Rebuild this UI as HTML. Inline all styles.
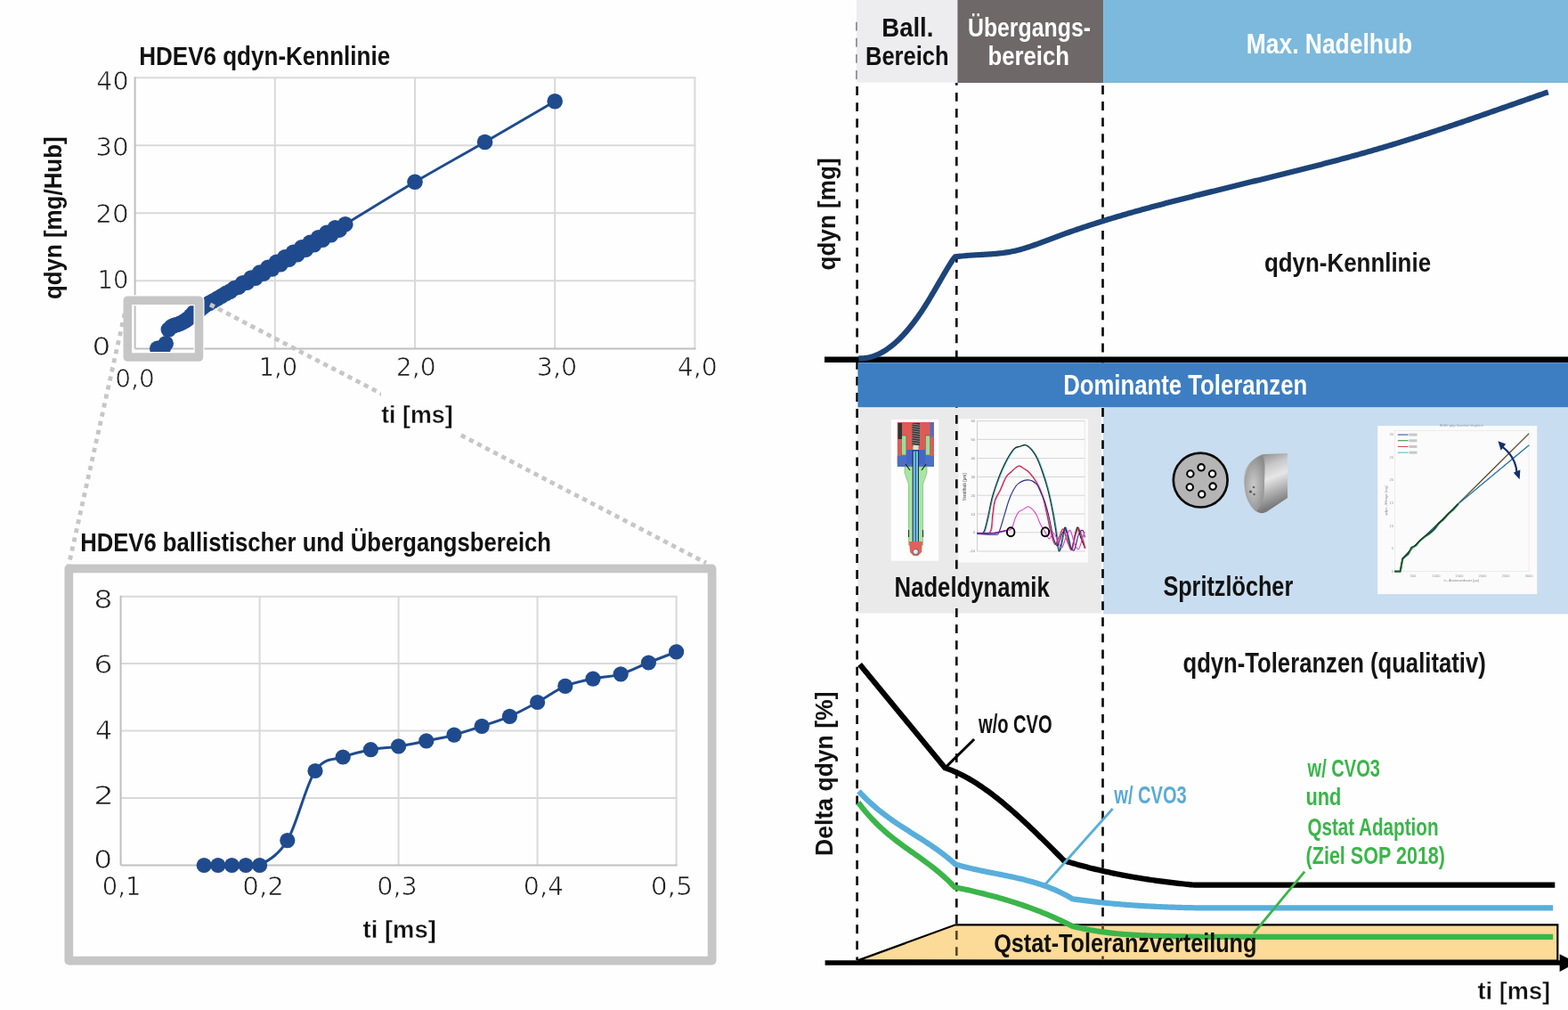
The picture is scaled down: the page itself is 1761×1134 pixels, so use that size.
<!DOCTYPE html><html><head><meta charset="utf-8"><title>HDEV6 qdyn</title>
<style>html,body{margin:0;padding:0;background:#fff;}svg{display:block;}</style></head><body>
<svg width="1761" height="1134" viewBox="0 0 1761 1134">
<rect x="0" y="0" width="1761" height="1134" fill="#fefefe"/>
<g id="chart1">
<line x1="308.80" y1="87.20" x2="308.80" y2="391.40" stroke="#d9d9d9" stroke-width="2"/>
<line x1="466.00" y1="87.20" x2="466.00" y2="391.40" stroke="#d9d9d9" stroke-width="2"/>
<line x1="623.20" y1="87.20" x2="623.20" y2="391.40" stroke="#d9d9d9" stroke-width="2"/>
<line x1="780.40" y1="87.20" x2="780.40" y2="391.40" stroke="#d9d9d9" stroke-width="2"/>
<line x1="151.60" y1="315.35" x2="781.40" y2="315.35" stroke="#d9d9d9" stroke-width="2"/>
<line x1="151.60" y1="239.30" x2="781.40" y2="239.30" stroke="#d9d9d9" stroke-width="2"/>
<line x1="151.60" y1="163.25" x2="781.40" y2="163.25" stroke="#d9d9d9" stroke-width="2"/>
<line x1="151.60" y1="87.20" x2="781.40" y2="87.20" stroke="#d9d9d9" stroke-width="2"/>
<line x1="151.60" y1="86.20" x2="151.60" y2="391.40" stroke="#bfbfbf" stroke-width="2"/>
<line x1="151.60" y1="391.40" x2="781.40" y2="391.40" stroke="#bfbfbf" stroke-width="2"/>
<path d="M176.75,391.40 C177.01,391.40 177.80,391.40 178.32,391.40 C178.85,391.40 179.37,391.40 179.90,391.40 C180.42,391.40 180.94,391.40 181.47,391.40 C181.99,391.40 182.25,392.34 183.04,391.40 C183.83,390.46 185.14,389.33 186.18,385.77 C187.23,382.21 188.28,373.17 189.33,370.03 C190.38,366.89 191.42,367.71 192.47,366.91 C193.52,366.11 194.57,365.64 195.62,365.24 C196.66,364.83 197.71,364.81 198.76,364.48 C199.81,364.15 200.86,363.69 201.90,363.26 C202.95,362.83 204.00,362.45 205.05,361.89 C206.10,361.33 207.14,360.61 208.19,359.92 C209.24,359.22 210.29,358.61 211.34,357.71 C212.38,356.81 213.43,355.66 214.48,354.52 C215.53,353.38 216.58,351.75 217.62,350.87 C218.67,349.98 219.72,349.65 220.77,349.19 C221.82,348.74 222.86,348.74 223.91,348.13 C224.96,347.52 226.01,346.38 227.06,345.54 C228.10,344.71 223.13,347.27 230.20,343.11 C237.27,338.95 256.40,328.12 269.50,320.58 C282.60,313.04 295.70,305.46 308.80,297.86 C321.90,290.25 334.93,282.64 348.10,274.95 C361.27,267.25 368.16,263.47 387.81,251.70 C407.46,239.92 439.87,219.69 466.00,204.32 C492.13,188.94 518.40,174.53 544.60,159.45 C570.80,144.36 610.10,121.42 623.20,113.82" fill="none" stroke="#1f4b8e" stroke-width="3"/>
<circle cx="176.75" cy="391.40" r="8.8" fill="#1f4b8e"/>
<circle cx="178.32" cy="391.40" r="8.8" fill="#1f4b8e"/>
<circle cx="179.90" cy="391.40" r="8.8" fill="#1f4b8e"/>
<circle cx="181.47" cy="391.40" r="8.8" fill="#1f4b8e"/>
<circle cx="183.04" cy="391.40" r="8.8" fill="#1f4b8e"/>
<circle cx="186.18" cy="385.77" r="8.8" fill="#1f4b8e"/>
<circle cx="189.33" cy="370.03" r="8.8" fill="#1f4b8e"/>
<circle cx="192.47" cy="366.91" r="8.8" fill="#1f4b8e"/>
<circle cx="195.62" cy="365.24" r="8.8" fill="#1f4b8e"/>
<circle cx="198.76" cy="364.48" r="8.8" fill="#1f4b8e"/>
<circle cx="201.90" cy="363.26" r="8.8" fill="#1f4b8e"/>
<circle cx="205.05" cy="361.89" r="8.8" fill="#1f4b8e"/>
<circle cx="208.19" cy="359.92" r="8.8" fill="#1f4b8e"/>
<circle cx="211.34" cy="357.71" r="8.8" fill="#1f4b8e"/>
<circle cx="214.48" cy="354.52" r="8.8" fill="#1f4b8e"/>
<circle cx="217.62" cy="350.87" r="8.8" fill="#1f4b8e"/>
<circle cx="220.77" cy="349.19" r="8.8" fill="#1f4b8e"/>
<circle cx="223.91" cy="348.13" r="8.8" fill="#1f4b8e"/>
<circle cx="227.06" cy="345.54" r="8.8" fill="#1f4b8e"/>
<circle cx="230.20" cy="343.11" r="8.8" fill="#1f4b8e"/>
<circle cx="234.92" cy="340.41" r="8.8" fill="#1f4b8e"/>
<circle cx="239.63" cy="337.72" r="8.8" fill="#1f4b8e"/>
<circle cx="244.35" cy="335.02" r="8.8" fill="#1f4b8e"/>
<circle cx="249.06" cy="332.32" r="8.8" fill="#1f4b8e"/>
<circle cx="253.78" cy="329.42" r="8.8" fill="#1f4b8e"/>
<circle cx="258.50" cy="327.29" r="8.8" fill="#1f4b8e"/>
<circle cx="263.21" cy="323.61" r="8.8" fill="#1f4b8e"/>
<circle cx="267.93" cy="322.26" r="8.8" fill="#1f4b8e"/>
<circle cx="272.64" cy="317.80" r="8.8" fill="#1f4b8e"/>
<circle cx="277.36" cy="317.21" r="8.8" fill="#1f4b8e"/>
<circle cx="282.08" cy="311.97" r="8.8" fill="#1f4b8e"/>
<circle cx="286.79" cy="312.16" r="8.8" fill="#1f4b8e"/>
<circle cx="291.51" cy="306.13" r="8.8" fill="#1f4b8e"/>
<circle cx="296.22" cy="307.09" r="8.8" fill="#1f4b8e"/>
<circle cx="300.94" cy="300.28" r="8.8" fill="#1f4b8e"/>
<circle cx="305.66" cy="302.01" r="8.8" fill="#1f4b8e"/>
<circle cx="310.37" cy="294.42" r="8.8" fill="#1f4b8e"/>
<circle cx="315.09" cy="296.79" r="8.8" fill="#1f4b8e"/>
<circle cx="319.80" cy="288.88" r="8.8" fill="#1f4b8e"/>
<circle cx="324.52" cy="291.30" r="8.8" fill="#1f4b8e"/>
<circle cx="329.24" cy="283.38" r="8.8" fill="#1f4b8e"/>
<circle cx="333.95" cy="285.80" r="8.8" fill="#1f4b8e"/>
<circle cx="338.67" cy="277.88" r="8.8" fill="#1f4b8e"/>
<circle cx="343.38" cy="280.29" r="8.8" fill="#1f4b8e"/>
<circle cx="348.10" cy="272.36" r="8.8" fill="#1f4b8e"/>
<circle cx="352.82" cy="274.77" r="8.8" fill="#1f4b8e"/>
<circle cx="357.53" cy="266.84" r="8.8" fill="#1f4b8e"/>
<circle cx="362.25" cy="269.24" r="8.8" fill="#1f4b8e"/>
<circle cx="366.96" cy="261.30" r="8.8" fill="#1f4b8e"/>
<circle cx="371.68" cy="263.70" r="8.8" fill="#1f4b8e"/>
<circle cx="376.40" cy="255.75" r="8.8" fill="#1f4b8e"/>
<circle cx="381.11" cy="258.14" r="8.8" fill="#1f4b8e"/>
<circle cx="387.81" cy="251.70" r="8.8" fill="#1f4b8e"/>
<circle cx="466.00" cy="204.32" r="8.8" fill="#1f4b8e"/>
<circle cx="544.60" cy="159.45" r="8.8" fill="#1f4b8e"/>
<circle cx="623.20" cy="113.82" r="8.8" fill="#1f4b8e"/>
</g>
<rect x="143.3" y="337.2" width="80.2" height="63.8" fill="none" stroke="#fff" stroke-width="12" stroke-linejoin="round"/>
<rect x="143.3" y="337.2" width="80.2" height="63.8" fill="none" stroke="#c6c6c6" stroke-width="9.6" stroke-linejoin="round"/>
<line x1="142.3" y1="342" x2="77.3" y2="634" stroke="#c6c6c6" stroke-width="4.8" stroke-dasharray="5.1 5.2"/>
<line x1="236" y1="342" x2="793" y2="632" stroke="#c6c6c6" stroke-width="4.8" stroke-dasharray="5.4 4.85"/>
<text id="c1y40" x="108.36" y="100.90" font-family="'DejaVu Sans', 'Liberation Sans', sans-serif" font-weight="normal" font-size="27.50" fill="#1e1e1e" textLength="36.36" lengthAdjust="spacingAndGlyphs" stroke="#fefefe" stroke-width="0.7">40</text>
<text id="c1y30" x="107.19" y="175.40" font-family="'DejaVu Sans', 'Liberation Sans', sans-serif" font-weight="normal" font-size="27.50" fill="#1e1e1e" textLength="37.58" lengthAdjust="spacingAndGlyphs" stroke="#fefefe" stroke-width="0.7">30</text>
<text id="c1y20" x="107.19" y="250.00" font-family="'DejaVu Sans', 'Liberation Sans', sans-serif" font-weight="normal" font-size="27.50" fill="#1e1e1e" textLength="37.58" lengthAdjust="spacingAndGlyphs" stroke="#fefefe" stroke-width="0.7">20</text>
<text id="c1y10" x="109.52" y="324.40" font-family="'DejaVu Sans', 'Liberation Sans', sans-serif" font-weight="normal" font-size="27.50" fill="#1e1e1e" textLength="34.86" lengthAdjust="spacingAndGlyphs" stroke="#fefefe" stroke-width="0.7">10</text>
<text id="c1y0" x="103.51" y="398.50" font-family="'DejaVu Sans', 'Liberation Sans', sans-serif" font-weight="normal" font-size="27.50" fill="#1e1e1e" textLength="20.79" lengthAdjust="spacingAndGlyphs" stroke="#fefefe" stroke-width="0.7">0</text>
<text id="c1x0,0" x="129.36" y="435.20" font-family="'DejaVu Sans', 'Liberation Sans', sans-serif" font-weight="normal" font-size="27.50" fill="#1e1e1e" textLength="44.34" lengthAdjust="spacingAndGlyphs" stroke="#fefefe" stroke-width="0.7">0,0</text>
<text id="c1x1,0" x="290.64" y="422.20" font-family="'DejaVu Sans', 'Liberation Sans', sans-serif" font-weight="normal" font-size="27.50" fill="#1e1e1e" textLength="43.62" lengthAdjust="spacingAndGlyphs" stroke="#fefefe" stroke-width="0.7">1,0</text>
<text id="c1x2,0" x="444.77" y="422.20" font-family="'DejaVu Sans', 'Liberation Sans', sans-serif" font-weight="normal" font-size="27.50" fill="#1e1e1e" textLength="44.94" lengthAdjust="spacingAndGlyphs" stroke="#fefefe" stroke-width="0.7">2,0</text>
<text id="c1x3,0" x="602.77" y="422.00" font-family="'DejaVu Sans', 'Liberation Sans', sans-serif" font-weight="normal" font-size="27.50" fill="#1e1e1e" textLength="45.45" lengthAdjust="spacingAndGlyphs" stroke="#fefefe" stroke-width="0.7">3,0</text>
<text id="c1x4,0" x="760.82" y="422.00" font-family="'DejaVu Sans', 'Liberation Sans', sans-serif" font-weight="normal" font-size="27.50" fill="#1e1e1e" textLength="44.95" lengthAdjust="spacingAndGlyphs" stroke="#fefefe" stroke-width="0.7">4,0</text>
<rect x="428" y="438" width="89" height="52" fill="#fefefe"/>
<text id="c1xl" x="428.16" y="475.00" font-family="'Liberation Sans', Arial, sans-serif" font-weight="bold" font-size="28.00" fill="#111" textLength="80.50" lengthAdjust="spacingAndGlyphs" stroke="#fefefe" stroke-width="0.4">ti [ms]</text>
<text id="c1t" x="156.19" y="72.70" font-family="'Liberation Sans', Arial, sans-serif" font-weight="bold" font-size="29.50" fill="#111" textLength="282.01" lengthAdjust="spacingAndGlyphs" >HDEV6 qdyn-Kennlinie</text>
<text id="c1yl" transform="rotate(-90)" x="-336.11" y="69.20" font-family="'Liberation Sans', Arial, sans-serif" font-weight="bold" font-size="28.00" fill="#111" textLength="182.72" lengthAdjust="spacingAndGlyphs" >qdyn [mg/Hub]</text>
<g id="chart2">
<rect x="77.3" y="638.4" width="722.3" height="440.2" fill="#fefefe" stroke="#c6c6c6" stroke-width="9.7" stroke-linejoin="round"/>
<line x1="291.60" y1="669.66" x2="291.60" y2="971.50" stroke="#d9d9d9" stroke-width="2"/>
<line x1="447.60" y1="669.66" x2="447.60" y2="971.50" stroke="#d9d9d9" stroke-width="2"/>
<line x1="603.60" y1="669.66" x2="603.60" y2="971.50" stroke="#d9d9d9" stroke-width="2"/>
<line x1="759.60" y1="669.66" x2="759.60" y2="971.50" stroke="#d9d9d9" stroke-width="2"/>
<line x1="135.60" y1="896.04" x2="760.60" y2="896.04" stroke="#d9d9d9" stroke-width="2"/>
<line x1="135.60" y1="820.58" x2="760.60" y2="820.58" stroke="#d9d9d9" stroke-width="2"/>
<line x1="135.60" y1="745.12" x2="760.60" y2="745.12" stroke="#d9d9d9" stroke-width="2"/>
<line x1="135.60" y1="669.66" x2="760.60" y2="669.66" stroke="#d9d9d9" stroke-width="2"/>
<line x1="135.60" y1="668.66" x2="135.60" y2="971.50" stroke="#bfbfbf" stroke-width="2"/>
<line x1="135.60" y1="971.50" x2="760.60" y2="971.50" stroke="#bfbfbf" stroke-width="2"/>
<path d="M229.20,971.50 C231.80,971.50 239.60,971.50 244.80,971.50 C250.00,971.50 255.20,971.50 260.40,971.50 C265.60,971.50 270.80,971.50 276.00,971.50 C281.20,971.50 283.80,976.15 291.60,971.50 C299.40,966.85 312.40,961.25 322.80,943.58 C333.20,925.91 343.60,881.07 354.00,865.48 C364.40,849.88 374.80,853.97 385.20,850.01 C395.60,846.05 406.00,843.72 416.40,841.71 C426.80,839.70 437.20,839.57 447.60,837.94 C458.00,836.30 468.40,834.04 478.80,831.90 C489.20,829.76 499.60,827.87 510.00,825.11 C520.40,822.34 530.80,818.76 541.20,815.30 C551.60,811.84 562.00,808.82 572.40,804.36 C582.80,799.89 593.20,794.17 603.60,788.51 C614.00,782.85 624.40,774.80 634.80,770.40 C645.20,766.00 655.60,764.36 666.00,762.10 C676.40,759.83 686.80,759.83 697.20,756.82 C707.60,753.80 718.00,748.14 728.40,743.99 C738.80,739.84 754.40,733.93 759.60,731.91" fill="none" stroke="#1f4b8e" stroke-width="3"/>
<circle cx="229.20" cy="971.50" r="8.6" fill="#1f4b8e"/>
<circle cx="244.80" cy="971.50" r="8.6" fill="#1f4b8e"/>
<circle cx="260.40" cy="971.50" r="8.6" fill="#1f4b8e"/>
<circle cx="276.00" cy="971.50" r="8.6" fill="#1f4b8e"/>
<circle cx="291.60" cy="971.50" r="8.6" fill="#1f4b8e"/>
<circle cx="322.80" cy="943.58" r="8.6" fill="#1f4b8e"/>
<circle cx="354.00" cy="865.48" r="8.6" fill="#1f4b8e"/>
<circle cx="385.20" cy="850.01" r="8.6" fill="#1f4b8e"/>
<circle cx="416.40" cy="841.71" r="8.6" fill="#1f4b8e"/>
<circle cx="447.60" cy="837.94" r="8.6" fill="#1f4b8e"/>
<circle cx="478.80" cy="831.90" r="8.6" fill="#1f4b8e"/>
<circle cx="510.00" cy="825.11" r="8.6" fill="#1f4b8e"/>
<circle cx="541.20" cy="815.30" r="8.6" fill="#1f4b8e"/>
<circle cx="572.40" cy="804.36" r="8.6" fill="#1f4b8e"/>
<circle cx="603.60" cy="788.51" r="8.6" fill="#1f4b8e"/>
<circle cx="634.80" cy="770.40" r="8.6" fill="#1f4b8e"/>
<circle cx="666.00" cy="762.10" r="8.6" fill="#1f4b8e"/>
<circle cx="697.20" cy="756.82" r="8.6" fill="#1f4b8e"/>
<circle cx="728.40" cy="743.99" r="8.6" fill="#1f4b8e"/>
<circle cx="759.60" cy="731.91" r="8.6" fill="#1f4b8e"/>
</g>
<text id="c2y8" x="105.33" y="683.40" font-family="'DejaVu Sans', 'Liberation Sans', sans-serif" font-weight="normal" font-size="27.50" fill="#1e1e1e" textLength="21.36" lengthAdjust="spacingAndGlyphs" stroke="#fefefe" stroke-width="0.7">8</text>
<text id="c2y6" x="105.33" y="756.00" font-family="'DejaVu Sans', 'Liberation Sans', sans-serif" font-weight="normal" font-size="27.50" fill="#1e1e1e" textLength="21.36" lengthAdjust="spacingAndGlyphs" stroke="#fefefe" stroke-width="0.7">6</text>
<text id="c2y4" x="106.76" y="829.50" font-family="'DejaVu Sans', 'Liberation Sans', sans-serif" font-weight="normal" font-size="27.50" fill="#1e1e1e" textLength="19.54" lengthAdjust="spacingAndGlyphs" stroke="#fefefe" stroke-width="0.7">4</text>
<text id="c2y2" x="105.11" y="903.00" font-family="'DejaVu Sans', 'Liberation Sans', sans-serif" font-weight="normal" font-size="27.50" fill="#1e1e1e" textLength="22.98" lengthAdjust="spacingAndGlyphs" stroke="#fefefe" stroke-width="0.7">2</text>
<text id="c2y0" x="105.21" y="975.00" font-family="'DejaVu Sans', 'Liberation Sans', sans-serif" font-weight="normal" font-size="27.50" fill="#1e1e1e" textLength="20.93" lengthAdjust="spacingAndGlyphs" stroke="#fefefe" stroke-width="0.7">0</text>
<text id="c2x0,1" x="114.84" y="1004.50" font-family="'DejaVu Sans', 'Liberation Sans', sans-serif" font-weight="normal" font-size="27.50" fill="#1e1e1e" textLength="43.48" lengthAdjust="spacingAndGlyphs" stroke="#fefefe" stroke-width="0.7">0,1</text>
<text id="c2x0,2" x="272.30" y="1004.50" font-family="'DejaVu Sans', 'Liberation Sans', sans-serif" font-weight="normal" font-size="27.50" fill="#1e1e1e" textLength="46.58" lengthAdjust="spacingAndGlyphs" stroke="#fefefe" stroke-width="0.7">0,2</text>
<text id="c2x0,3" x="423.30" y="1004.60" font-family="'DejaVu Sans', 'Liberation Sans', sans-serif" font-weight="normal" font-size="27.50" fill="#1e1e1e" textLength="45.46" lengthAdjust="spacingAndGlyphs" stroke="#fefefe" stroke-width="0.7">0,3</text>
<text id="c2x0,4" x="587.84" y="1004.60" font-family="'DejaVu Sans', 'Liberation Sans', sans-serif" font-weight="normal" font-size="27.50" fill="#1e1e1e" textLength="45.33" lengthAdjust="spacingAndGlyphs" stroke="#fefefe" stroke-width="0.7">0,4</text>
<text id="c2x0,5" x="730.74" y="1004.60" font-family="'DejaVu Sans', 'Liberation Sans', sans-serif" font-weight="normal" font-size="27.50" fill="#1e1e1e" textLength="47.14" lengthAdjust="spacingAndGlyphs" stroke="#fefefe" stroke-width="0.7">0,5</text>
<text id="c2xl" x="407.58" y="1053.00" font-family="'Liberation Sans', Arial, sans-serif" font-weight="bold" font-size="28.00" fill="#111" textLength="82.30" lengthAdjust="spacingAndGlyphs" stroke="#fefefe" stroke-width="0.4">ti [ms]</text>
<text id="c2t" x="90.19" y="618.60" font-family="'Liberation Sans', Arial, sans-serif" font-weight="bold" font-size="29.00" fill="#111" textLength="528.81" lengthAdjust="spacingAndGlyphs" >HDEV6 ballistischer und Übergangsbereich</text>
<rect x="962.0" y="0" width="113.4" height="92.6" fill="#edecee"/>
<rect x="1075.4" y="0" width="163.8" height="93" fill="#6e6869"/>
<rect x="1239.2" y="0" width="521.8" height="93" fill="#7cb9dc"/>
<line x1="961.9" y1="24.7" x2="961.9" y2="92.6" stroke="#8a8a8a" stroke-width="1.7" stroke-dasharray="9.9 8.2"/>
<rect x="963.2" y="457.2" width="274.0" height="231.4" fill="#ebeaeb"/>
<rect x="1239.0" y="457.2" width="522.0" height="232.2" fill="#c8ddef"/>
<path d="M962.60,97.10V107.00M962.60,115.20V125.10M962.60,133.30V143.20M962.60,151.40V161.30M962.60,169.50V179.40M962.60,187.60V197.50M962.60,205.70V215.60M962.60,223.80V233.70M962.60,241.90V251.80M962.60,260.00V269.90M962.60,278.10V288.00M962.60,296.20V306.10M962.60,314.30V324.20M962.60,332.40V342.30M962.60,350.50V360.40M962.60,368.60V378.50M962.60,386.70V396.60M962.60,404.80V414.70M962.60,422.90V432.80M962.60,441.00V450.90M962.60,459.10V469.00M962.60,477.20V487.10M962.60,495.30V505.20M962.60,513.40V523.30M962.60,531.50V541.40M962.60,549.60V559.50M962.60,567.70V577.60M962.60,585.80V595.70M962.60,603.90V613.80M962.60,622.00V631.90M962.60,640.10V650.00M962.60,658.20V668.10M962.60,676.30V686.20M962.60,694.40V704.30M962.60,712.50V722.40M962.60,730.60V740.50M962.60,748.70V758.60M962.60,766.80V776.70M962.60,784.90V794.80M962.60,803.00V812.90M962.60,821.10V831.00M962.60,839.20V849.10M962.60,857.30V867.20M962.60,875.40V885.30M962.60,893.50V903.40M962.60,911.60V921.50M962.60,929.70V939.60M962.60,947.80V957.70M962.60,965.90V975.80M962.60,984.00V993.90M962.60,1002.10V1012.00M962.60,1020.20V1030.10M962.60,1038.30V1048.20M962.60,1056.40V1066.30M962.60,1074.50V1078.00" stroke="#000" stroke-width="2.6" fill="none"/>
<path d="M1074.30,93.00V95.70M1074.30,103.90V113.80M1074.30,122.00V131.90M1074.30,140.10V150.00M1074.30,158.20V168.10M1074.30,176.30V186.20M1074.30,194.40V204.30M1074.30,212.50V222.40M1074.30,230.60V240.50M1074.30,248.70V258.60M1074.30,266.80V276.70M1074.30,284.90V294.80M1074.30,303.00V312.90M1074.30,321.10V331.00M1074.30,339.20V349.10M1074.30,357.30V367.20M1074.30,375.40V385.30M1074.30,393.50V403.40M1074.30,411.60V421.50M1074.30,429.70V439.60M1074.30,447.80V457.70M1074.30,465.90V475.80M1074.30,484.00V493.90M1074.30,502.10V512.00M1074.30,520.20V530.10M1074.30,538.30V548.20M1074.30,556.40V566.30M1074.30,574.50V584.40M1074.30,592.60V602.50M1074.30,610.70V620.60M1074.30,628.80V638.70M1074.30,646.90V656.80M1074.30,665.00V674.90M1074.30,683.10V693.00M1074.30,701.20V711.10M1074.30,719.30V729.20M1074.30,737.40V747.30M1074.30,755.50V765.40M1074.30,773.60V783.50M1074.30,791.70V801.60M1074.30,809.80V819.70M1074.30,827.90V837.80M1074.30,846.00V855.90M1074.30,864.10V874.00M1074.30,882.20V892.10M1074.30,900.30V910.20M1074.30,918.40V928.30M1074.30,936.50V946.40M1074.30,954.60V964.50M1074.30,972.70V982.60M1074.30,990.80V1000.70M1074.30,1008.90V1018.80M1074.30,1027.00V1036.90M1074.30,1045.10V1055.00M1074.30,1063.20V1073.10" stroke="#000" stroke-width="2.6" fill="none"/>
<path d="M1238.50,96.00V105.90M1238.50,114.10V124.00M1238.50,132.20V142.10M1238.50,150.30V160.20M1238.50,168.40V178.30M1238.50,186.50V196.40M1238.50,204.60V214.50M1238.50,222.70V232.60M1238.50,240.80V250.70M1238.50,258.90V268.80M1238.50,277.00V286.90M1238.50,295.10V305.00M1238.50,313.20V323.10M1238.50,331.30V341.20M1238.50,349.40V359.30M1238.50,367.50V377.40M1238.50,385.60V395.50M1238.50,403.70V413.60M1238.50,421.80V431.70M1238.50,439.90V449.80M1238.50,458.00V467.90M1238.50,476.10V486.00M1238.50,494.20V504.10M1238.50,512.30V522.20M1238.50,530.40V540.30M1238.50,548.50V558.40M1238.50,566.60V576.50M1238.50,584.70V594.60M1238.50,602.80V612.70M1238.50,620.90V630.80M1238.50,639.00V648.90M1238.50,657.10V667.00M1238.50,675.20V685.10M1238.50,693.30V703.20M1238.50,711.40V721.30M1238.50,729.50V739.40M1238.50,747.60V757.50M1238.50,765.70V775.60M1238.50,783.80V793.70M1238.50,801.90V811.80M1238.50,820.00V829.90M1238.50,838.10V848.00M1238.50,856.20V866.10M1238.50,874.30V884.20M1238.50,892.40V902.30M1238.50,910.50V920.40M1238.50,928.60V938.50M1238.50,946.70V956.60M1238.50,964.80V974.70M1238.50,982.90V992.80M1238.50,1001.00V1010.90M1238.50,1019.10V1029.00M1238.50,1037.20V1047.10M1238.50,1055.30V1065.20M1238.50,1073.40V1078.00" stroke="#000" stroke-width="2.6" fill="none"/>
<rect x="1070" y="640" width="9" height="39" fill="#ebeaeb"/>
<rect x="963.4" y="407.2" width="797.6" height="50.0" fill="#3d7ec2"/>
<line x1="926" y1="403.8" x2="1761" y2="403.8" stroke="#000" stroke-width="6.6"/>
<path d="M964.30,402.70 L966.31,402.38 L968.31,402.33 L970.32,402.19 L972.32,401.96 L974.33,401.63 L976.33,401.21 L978.34,400.70 L980.34,400.10 L982.35,399.40 L984.36,398.62 L986.36,397.74 L988.37,396.77 L990.37,395.71 L992.38,394.56 L994.38,393.32 L996.39,391.99 L998.39,390.58 L1000.40,389.07 L1002.41,387.48 L1004.41,385.80 L1006.42,384.04 L1008.42,382.18 L1010.43,380.24 L1012.43,378.22 L1014.44,376.11 L1016.44,373.91 L1018.45,371.63 L1020.46,369.27 L1022.46,366.82 L1024.47,364.29 L1026.47,361.67 L1028.48,358.98 L1030.48,356.20 L1032.49,353.34 L1034.49,350.40 L1036.50,347.37 L1038.51,344.27 L1040.51,341.08 L1042.52,337.83 L1044.52,334.51 L1046.53,331.15 L1048.53,327.74 L1050.54,324.31 L1052.54,320.86 L1054.55,317.41 L1056.56,313.96 L1058.56,310.53 L1060.57,307.12 L1062.57,303.75 L1064.58,300.44 L1066.58,297.18 L1068.59,293.99 L1070.59,290.89 L1072.60,288.40 L1074.60,288.17 L1076.60,287.91 L1078.60,287.67 L1080.60,287.46 L1082.60,287.26 L1084.60,287.08 L1086.60,286.91 L1088.60,286.76 L1090.61,286.62 L1092.61,286.49 L1094.61,286.37 L1096.61,286.25 L1098.61,286.14 L1100.61,286.03 L1102.61,285.92 L1104.61,285.81 L1106.61,285.69 L1108.61,285.57 L1110.61,285.45 L1112.61,285.31 L1114.61,285.17 L1116.61,285.01 L1118.61,284.83 L1120.61,284.65 L1122.62,284.44 L1124.62,284.21 L1126.62,283.96 L1128.62,283.69 L1130.62,283.39 L1132.62,283.07 L1134.62,282.72 L1136.62,282.33 L1138.62,281.91 L1140.62,281.46 L1142.62,280.98 L1144.62,280.47 L1146.62,279.93 L1148.62,279.36 L1150.62,278.77 L1152.62,278.15 L1154.62,277.51 L1156.63,276.86 L1158.63,276.18 L1160.63,275.49 L1162.63,274.78 L1164.63,274.06 L1166.63,273.33 L1168.63,272.59 L1170.63,271.85 L1172.63,271.10 L1174.63,270.34 L1176.63,269.58 L1178.63,268.82 L1180.63,268.06 L1182.63,267.31 L1184.63,266.56 L1186.63,265.82 L1188.63,265.08 L1190.64,264.34 L1192.64,263.61 L1194.64,262.89 L1196.64,262.17 L1198.64,261.46 L1200.64,260.75 L1202.64,260.05 L1204.64,259.35 L1206.64,258.66 L1208.64,257.97 L1210.64,257.29 L1212.64,256.61 L1214.64,255.94 L1216.64,255.27 L1218.64,254.60 L1220.64,253.94 L1222.65,253.28 L1224.65,252.63 L1226.65,251.99 L1228.65,251.34 L1230.65,250.70 L1232.65,250.07 L1234.65,249.44 L1236.65,248.81 L1238.65,248.19 L1240.65,247.57 L1242.65,246.95 L1244.65,246.34 L1246.65,245.73 L1248.65,245.13 L1250.65,244.53 L1252.65,243.93 L1254.65,243.34 L1256.66,242.75 L1258.66,242.16 L1260.66,241.57 L1262.66,240.99 L1264.66,240.42 L1266.66,239.84 L1268.66,239.27 L1270.66,238.70 L1272.66,238.13 L1274.66,237.57 L1276.66,237.01 L1278.66,236.45 L1280.66,235.89 L1282.66,235.34 L1284.66,234.79 L1286.66,234.24 L1288.66,233.70 L1290.67,233.15 L1292.67,232.61 L1294.67,232.07 L1296.67,231.53 L1298.67,231.00 L1300.67,230.47 L1302.67,229.93 L1304.67,229.40 L1306.67,228.88 L1308.67,228.35 L1310.67,227.83 L1312.67,227.30 L1314.67,226.78 L1316.67,226.26 L1318.67,225.74 L1320.67,225.23 L1322.68,224.71 L1324.68,224.20 L1326.68,223.68 L1328.68,223.17 L1330.68,222.66 L1332.68,222.15 L1334.68,221.64 L1336.68,221.14 L1338.68,220.63 L1340.68,220.13 L1342.68,219.62 L1344.68,219.12 L1346.68,218.62 L1348.68,218.12 L1350.68,217.62 L1352.68,217.12 L1354.68,216.62 L1356.69,216.13 L1358.69,215.63 L1360.69,215.13 L1362.69,214.64 L1364.69,214.14 L1366.69,213.65 L1368.69,213.16 L1370.69,212.67 L1372.69,212.17 L1374.69,211.68 L1376.69,211.19 L1378.69,210.70 L1380.69,210.21 L1382.69,209.72 L1384.69,209.23 L1386.69,208.74 L1388.69,208.25 L1390.70,207.76 L1392.70,207.28 L1394.70,206.79 L1396.70,206.30 L1398.70,205.81 L1400.70,205.32 L1402.70,204.83 L1404.70,204.35 L1406.70,203.86 L1408.70,203.37 L1410.70,202.88 L1412.70,202.39 L1414.70,201.90 L1416.70,201.41 L1418.70,200.93 L1420.70,200.44 L1422.71,199.95 L1424.71,199.46 L1426.71,198.96 L1428.71,198.47 L1430.71,197.98 L1432.71,197.49 L1434.71,197.00 L1436.71,196.50 L1438.71,196.01 L1440.71,195.51 L1442.71,195.02 L1444.71,194.52 L1446.71,194.03 L1448.71,193.53 L1450.71,193.03 L1452.71,192.53 L1454.71,192.03 L1456.72,191.53 L1458.72,191.03 L1460.72,190.52 L1462.72,190.02 L1464.72,189.51 L1466.72,189.01 L1468.72,188.50 L1470.72,187.99 L1472.72,187.48 L1474.72,186.97 L1476.72,186.46 L1478.72,185.94 L1480.72,185.43 L1482.72,184.91 L1484.72,184.39 L1486.72,183.87 L1488.72,183.35 L1490.73,182.83 L1492.73,182.30 L1494.73,181.78 L1496.73,181.25 L1498.73,180.72 L1500.73,180.19 L1502.73,179.66 L1504.73,179.12 L1506.73,178.59 L1508.73,178.05 L1510.73,177.51 L1512.73,176.97 L1514.73,176.42 L1516.73,175.88 L1518.73,175.33 L1520.73,174.78 L1522.74,174.23 L1524.74,173.67 L1526.74,173.12 L1528.74,172.56 L1530.74,172.00 L1532.74,171.43 L1534.74,170.87 L1536.74,170.30 L1538.74,169.73 L1540.74,169.16 L1542.74,168.58 L1544.74,168.01 L1546.74,167.43 L1548.74,166.84 L1550.74,166.26 L1552.74,165.67 L1554.74,165.08 L1556.75,164.49 L1558.75,163.89 L1560.75,163.29 L1562.75,162.69 L1564.75,162.09 L1566.75,161.48 L1568.75,160.87 L1570.75,160.26 L1572.75,159.64 L1574.75,159.02 L1576.75,158.40 L1578.75,157.78 L1580.75,157.16 L1582.75,156.53 L1584.75,155.90 L1586.75,155.27 L1588.75,154.63 L1590.76,153.99 L1592.76,153.35 L1594.76,152.71 L1596.76,152.07 L1598.76,151.42 L1600.76,150.78 L1602.76,150.13 L1604.76,149.47 L1606.76,148.82 L1608.76,148.16 L1610.76,147.51 L1612.76,146.85 L1614.76,146.18 L1616.76,145.52 L1618.76,144.86 L1620.76,144.19 L1622.77,143.52 L1624.77,142.85 L1626.77,142.18 L1628.77,141.51 L1630.77,140.83 L1632.77,140.15 L1634.77,139.48 L1636.77,138.80 L1638.77,138.12 L1640.77,137.44 L1642.77,136.75 L1644.77,136.07 L1646.77,135.38 L1648.77,134.70 L1650.77,134.01 L1652.77,133.32 L1654.77,132.63 L1656.78,131.94 L1658.78,131.25 L1660.78,130.56 L1662.78,129.86 L1664.78,129.17 L1666.78,128.48 L1668.78,127.78 L1670.78,127.08 L1672.78,126.39 L1674.78,125.69 L1676.78,124.99 L1678.78,124.29 L1680.78,123.59 L1682.78,122.89 L1684.78,122.19 L1686.78,121.49 L1688.78,120.79 L1690.79,120.09 L1692.79,119.39 L1694.79,118.69 L1696.79,117.99 L1698.79,117.29 L1700.79,116.58 L1702.79,115.88 L1704.79,115.18 L1706.79,114.48 L1708.79,113.78 L1710.79,113.07 L1712.79,112.37 L1714.79,111.67 L1716.79,110.97 L1718.79,110.27 L1720.79,109.57 L1722.80,108.87 L1724.80,108.17 L1726.80,107.47 L1728.80,106.77 L1730.80,106.07 L1732.80,105.37 L1734.80,104.67 L1736.80,103.98 L1738.80,103.40" fill="none" stroke="#1d4479" stroke-width="6.2" stroke-linejoin="round"/>
<g id="injector">
<rect x="1000.7" y="471" width="53.5" height="158.7" fill="#fdfdfd"/>
<rect x="1007.8" y="474" width="41.2" height="47" fill="#e05a55"/>
<rect x="1007.8" y="512" width="41.2" height="12" fill="#4a6fc4"/>
<rect x="1012.3" y="489" width="5.6" height="22" fill="#9fdc95" stroke="#333" stroke-width="0.4"/>
<rect x="1039.2" y="489" width="5.6" height="22" fill="#9fdc95" stroke="#333" stroke-width="0.4"/>
<rect x="1044.5" y="474.5" width="4" height="16" fill="#4a6fc4"/>
<rect x="1008.5" y="475" width="4.5" height="18" fill="#333"/>
<rect x="1024.5" y="475" width="8.5" height="26" fill="#333"/>
<path d="M1024.5,476.0L1033,477.3M1024.5,478.6L1033,479.9M1024.5,481.2L1033,482.5M1024.5,483.8L1033,485.1M1024.5,486.4L1033,487.7M1024.5,489.0L1033,490.3M1024.5,491.6L1033,492.9M1024.5,494.2L1033,495.5M1024.5,496.8L1033,498.1M1024.5,499.4L1033,500.7" stroke="#9a9a9a" stroke-width="0.9"/>
<rect x="1025.5" y="500" width="6" height="5" fill="#cfe8cf"/>
<rect x="1018" y="505" width="21" height="16" fill="#4466c8"/>
<path d="M1016,524 L1041,524 L1041,531 L1036.5,544 L1036.5,612 L1020.5,612 L1020.5,544 L1016,531 Z" fill="#a8e6a2" stroke="#6fae6a" stroke-width="0.6"/>
<path d="M1017,521 L1022,528 M1040,521 L1035,528" stroke="#222" stroke-width="1.2"/>
<rect x="1025.2" y="506" width="6.2" height="114" fill="#8fd4ec" stroke="#1a2a40" stroke-width="1.1"/>
<rect x="1027.4" y="506" width="1.8" height="112" fill="#2c6fa8"/>
<path d="M1021,608 L1036,608 L1035,620 L1031,624 L1026,624 L1022,620 Z" fill="#e2605a"/>
<circle cx="1028.3" cy="619.5" r="3" fill="#d8f0f8" stroke="#333" stroke-width="0.6"/>
<path d="M1020.5,595 L1020.5,603 M1036.5,595 L1036.5,603" stroke="#333" stroke-width="1.2"/>
</g>
<g id="liftchart">
<rect x="1076.5" y="470.3" width="145.5" height="161.2" fill="#fbfbfb"/>
<line x1="1097.47" y1="472.68" x2="1218.35" y2="472.68" stroke="#d0d0d0" stroke-width="0.9"/>
<text x="1095.12" y="474.18" font-family="'Liberation Sans', Arial, sans-serif" font-size="4.2" fill="#888" text-anchor="end">60</text>
<line x1="1097.47" y1="493.40" x2="1218.35" y2="493.40" stroke="#d0d0d0" stroke-width="0.9"/>
<text x="1095.12" y="494.90" font-family="'Liberation Sans', Arial, sans-serif" font-size="4.2" fill="#888" text-anchor="end">50</text>
<line x1="1097.47" y1="514.59" x2="1218.35" y2="514.59" stroke="#d0d0d0" stroke-width="0.9"/>
<text x="1095.12" y="516.09" font-family="'Liberation Sans', Arial, sans-serif" font-size="4.2" fill="#888" text-anchor="end">40</text>
<line x1="1097.47" y1="535.47" x2="1218.35" y2="535.47" stroke="#d0d0d0" stroke-width="0.9"/>
<text x="1095.12" y="536.97" font-family="'Liberation Sans', Arial, sans-serif" font-size="4.2" fill="#888" text-anchor="end">30</text>
<line x1="1097.47" y1="556.19" x2="1218.35" y2="556.19" stroke="#d0d0d0" stroke-width="0.9"/>
<text x="1095.12" y="557.69" font-family="'Liberation Sans', Arial, sans-serif" font-size="4.2" fill="#888" text-anchor="end">20</text>
<line x1="1097.47" y1="577.07" x2="1218.35" y2="577.07" stroke="#d0d0d0" stroke-width="0.9"/>
<text x="1095.12" y="578.57" font-family="'Liberation Sans', Arial, sans-serif" font-size="4.2" fill="#888" text-anchor="end">10</text>
<line x1="1097.47" y1="597.79" x2="1218.35" y2="597.79" stroke="#d0d0d0" stroke-width="0.9"/>
<text x="1095.12" y="599.29" font-family="'Liberation Sans', Arial, sans-serif" font-size="4.2" fill="#888" text-anchor="end">0</text>
<line x1="1097.47" y1="618.99" x2="1218.35" y2="618.99" stroke="#d0d0d0" stroke-width="0.9"/>
<text x="1095.12" y="620.49" font-family="'Liberation Sans', Arial, sans-serif" font-size="4.2" fill="#888" text-anchor="end">-10</text>
<line x1="1097.47" y1="472.68" x2="1097.47" y2="618.99" stroke="#c8c8c8" stroke-width="0.9"/>
<line x1="1218.35" y1="472.68" x2="1218.35" y2="618.99" stroke="#e2e2e2" stroke-width="0.7"/>
<text transform="translate(1084.91,546.77) rotate(-90)" font-family="'Liberation Sans', Arial, sans-serif" font-size="4.5" font-weight="bold" fill="#777" text-anchor="middle">Ventilhub [µm]</text>
<path d="M1098.41,598.26 C1099.59,598.19 1103.52,600.62 1105.48,597.79 C1107.44,594.97 1108.62,587.72 1110.19,581.31 C1111.76,574.90 1113.20,565.87 1114.90,559.33 C1116.60,552.79 1118.56,547.30 1120.39,542.06 C1122.22,536.83 1123.79,532.64 1125.89,527.93 C1127.98,523.22 1130.60,517.86 1132.95,513.81 C1135.31,509.75 1137.79,505.69 1140.02,503.60 C1142.24,501.51 1144.20,501.90 1146.30,501.25 C1148.39,500.59 1150.48,499.15 1152.57,499.68 C1154.67,500.20 1156.76,502.03 1158.85,504.39 C1160.95,506.74 1163.04,509.62 1165.13,513.81 C1167.23,517.99 1169.32,523.49 1171.41,529.50 C1173.51,535.52 1175.73,542.32 1177.69,549.91 C1179.65,557.50 1181.62,566.92 1183.19,575.03 C1184.76,583.14 1185.93,591.25 1187.11,598.58 C1188.29,605.90 1188.94,618.72 1190.25,618.99 C1191.56,619.25 1193.78,604.60 1194.96,600.15 C1196.14,595.70 1196.27,591.25 1197.32,592.30 C1198.36,593.34 1200.06,602.37 1201.24,606.43 C1202.42,610.48 1203.07,618.20 1204.38,616.63 C1205.69,615.06 1207.91,601.06 1209.09,597.01 C1210.27,592.95 1210.53,591.25 1211.44,592.30 C1212.36,593.34 1213.28,599.49 1214.58,603.29 C1215.89,607.08 1218.51,613.10 1219.29,615.06" fill="none" stroke="#30b8c8" stroke-width="1.1"/>
<path d="M1097.47,598.26 C1098.65,598.19 1102.57,600.62 1104.54,597.79 C1106.50,594.97 1107.68,587.72 1109.25,581.31 C1110.82,574.90 1112.26,565.87 1113.96,559.33 C1115.66,552.79 1117.62,547.30 1119.45,542.06 C1121.28,536.83 1122.85,532.64 1124.95,527.93 C1127.04,523.22 1129.65,517.86 1132.01,513.81 C1134.36,509.75 1136.85,505.69 1139.07,503.60 C1141.30,501.51 1143.26,501.90 1145.35,501.25 C1147.45,500.59 1149.54,499.15 1151.63,499.68 C1153.73,500.20 1155.82,502.03 1157.91,504.39 C1160.01,506.74 1162.10,509.62 1164.19,513.81 C1166.28,517.99 1168.38,523.49 1170.47,529.50 C1172.56,535.52 1174.79,542.32 1176.75,549.91 C1178.71,557.50 1180.68,566.92 1182.24,575.03 C1183.81,583.14 1184.99,591.25 1186.17,598.58 C1187.35,605.90 1188.00,618.72 1189.31,618.99 C1190.62,619.25 1192.84,604.60 1194.02,600.15 C1195.20,595.70 1195.33,591.25 1196.37,592.30 C1197.42,593.34 1199.12,602.37 1200.30,606.43 C1201.48,610.48 1202.13,618.20 1203.44,616.63 C1204.75,615.06 1206.97,601.06 1208.15,597.01 C1209.32,592.95 1209.59,591.25 1210.50,592.30 C1211.42,593.34 1212.33,599.49 1213.64,603.29 C1214.95,607.08 1217.57,613.10 1218.35,615.06" fill="none" stroke="#222" stroke-width="1.1"/>
<path d="M1098.26,598.58 C1100.61,598.45 1109.51,601.19 1112.39,597.79 C1115.26,594.39 1114.61,584.06 1115.53,578.17 C1116.44,572.28 1116.44,567.18 1117.88,562.47 C1119.32,557.76 1122.07,554.36 1124.16,549.91 C1126.25,545.46 1128.35,539.18 1130.44,535.78 C1132.53,532.38 1134.36,531.60 1136.72,529.50 C1139.07,527.41 1142.21,523.75 1144.57,523.22 C1146.92,522.70 1148.75,525.06 1150.85,526.36 C1152.94,527.67 1154.77,528.46 1157.13,531.07 C1159.48,533.69 1162.62,537.88 1164.98,542.06 C1167.33,546.25 1169.42,550.70 1171.26,556.19 C1173.09,561.69 1174.40,568.23 1175.97,575.03 C1177.54,581.83 1179.11,590.99 1180.68,597.01 C1182.24,603.03 1183.81,610.09 1185.38,611.14 C1186.95,612.18 1188.52,606.17 1190.09,603.29 C1191.66,600.41 1193.23,593.08 1194.80,593.87 C1196.37,594.65 1197.94,604.07 1199.51,608.00 C1201.08,611.92 1202.91,618.20 1204.22,617.42 C1205.53,616.63 1206.05,607.21 1207.36,603.29 C1208.67,599.36 1210.50,593.34 1212.07,593.87 C1213.64,594.39 1215.60,602.76 1216.78,606.43 C1217.96,610.09 1218.74,614.28 1219.14,615.85" fill="none" stroke="#f070a0" stroke-width="1.0"/>
<path d="M1097.47,598.58 C1099.83,598.45 1108.72,601.19 1111.60,597.79 C1114.48,594.39 1113.83,584.06 1114.74,578.17 C1115.66,572.28 1115.66,567.18 1117.10,562.47 C1118.53,557.76 1121.28,554.36 1123.38,549.91 C1125.47,545.46 1127.56,539.18 1129.65,535.78 C1131.75,532.38 1133.58,531.60 1135.93,529.50 C1138.29,527.41 1141.43,523.75 1143.78,523.22 C1146.14,522.70 1147.97,525.06 1150.06,526.36 C1152.16,527.67 1153.99,528.46 1156.34,531.07 C1158.70,533.69 1161.84,537.88 1164.19,542.06 C1166.55,546.25 1168.64,550.70 1170.47,556.19 C1172.30,561.69 1173.61,568.23 1175.18,575.03 C1176.75,581.83 1178.32,590.99 1179.89,597.01 C1181.46,603.03 1183.03,610.09 1184.60,611.14 C1186.17,612.18 1187.74,606.17 1189.31,603.29 C1190.88,600.41 1192.45,593.08 1194.02,593.87 C1195.59,594.65 1197.16,604.07 1198.73,608.00 C1200.30,611.92 1202.13,618.20 1203.44,617.42 C1204.75,616.63 1205.27,607.21 1206.58,603.29 C1207.89,599.36 1209.72,593.34 1211.29,593.87 C1212.86,594.39 1214.82,602.76 1216.00,606.43 C1217.17,610.09 1217.96,614.28 1218.35,615.85" fill="none" stroke="#c8204a" stroke-width="1.1"/>
<path d="M1097.47,599.36 C1100.74,599.49 1113.04,600.41 1117.10,600.15 C1121.15,599.89 1119.97,601.46 1121.81,597.79 C1123.64,594.13 1126.25,584.06 1128.08,578.17 C1129.92,572.28 1131.22,566.92 1132.79,562.47 C1134.36,558.02 1135.67,554.75 1137.50,551.48 C1139.34,548.21 1140.91,544.94 1143.78,542.85 C1146.66,540.75 1151.37,538.79 1154.77,538.92 C1158.17,539.05 1161.84,541.28 1164.19,543.63 C1166.55,545.99 1167.33,549.65 1168.90,553.05 C1170.47,556.45 1172.04,559.33 1173.61,564.04 C1175.18,568.75 1176.75,574.77 1178.32,581.31 C1179.89,587.85 1181.46,598.05 1183.03,603.29 C1184.60,608.52 1186.17,613.23 1187.74,612.71 C1189.31,612.18 1190.88,603.03 1192.45,600.15 C1194.02,597.27 1195.59,593.34 1197.16,595.44 C1198.73,597.53 1200.30,609.04 1201.87,612.71 C1203.44,616.37 1205.01,619.51 1206.58,617.42 C1208.15,615.32 1209.72,603.81 1211.29,600.15 C1212.86,596.48 1214.82,594.91 1216.00,595.44 C1217.17,595.96 1217.96,601.98 1218.35,603.29" fill="none" stroke="#2a2a8a" stroke-width="1.1"/>
<path d="M1097.47,598.89 C1100.74,598.79 1111.73,598.84 1117.10,598.26 C1122.46,597.69 1126.51,596.17 1129.65,595.44 C1132.79,594.71 1134.23,595.96 1135.93,593.87 C1137.63,591.77 1138.55,586.02 1139.86,582.88 C1141.17,579.74 1142.21,576.86 1143.78,575.03 C1145.35,573.20 1147.45,572.94 1149.28,571.89 C1151.11,570.84 1153.07,568.75 1154.77,568.75 C1156.47,568.75 1157.91,570.32 1159.48,571.89 C1161.05,573.46 1162.88,575.81 1164.19,578.17 C1165.50,580.52 1166.28,583.66 1167.33,586.02 C1168.38,588.37 1169.42,590.47 1170.47,592.30 C1171.52,594.13 1172.30,594.91 1173.61,597.01 C1174.92,599.10 1176.75,604.60 1178.32,604.86 C1179.89,605.12 1181.46,598.32 1183.03,598.58 C1184.60,598.84 1186.17,603.68 1187.74,606.43 C1189.31,609.17 1190.88,615.58 1192.45,615.06 C1194.02,614.54 1195.59,606.56 1197.16,603.29 C1198.73,600.02 1200.30,594.39 1201.87,595.44 C1203.44,596.48 1205.01,606.03 1206.58,609.57 C1208.15,613.10 1209.72,617.68 1211.29,616.63 C1212.86,615.58 1214.82,606.56 1216.00,603.29 C1217.17,600.02 1217.96,598.05 1218.35,597.01" fill="none" stroke="#e040d0" stroke-width="1.1"/>
<path d="M1097.47,598.89 L1117.10,598.58 L1129.65,595.75" stroke="#7020a0" stroke-width="1.6" fill="none"/>
<ellipse cx="1135.15" cy="597.32" rx="4.3" ry="5" fill="none" stroke="#000" stroke-width="1.9"/>
<ellipse cx="1173.92" cy="597.32" rx="4.3" ry="5" fill="none" stroke="#000" stroke-width="1.9"/>
</g>
<g id="disc">
<circle cx="1348.2" cy="539.1" r="30.4" fill="#b5b5b6" stroke="#0a0a0a" stroke-width="2.7"/>
<circle cx="1349.10" cy="524.80" r="3.7" fill="#fff" stroke="#000" stroke-width="2.1"/>
<circle cx="1361.60" cy="532.00" r="3.7" fill="#fff" stroke="#000" stroke-width="2.1"/>
<circle cx="1362.10" cy="546.10" r="3.7" fill="#fff" stroke="#000" stroke-width="2.1"/>
<circle cx="1349.70" cy="555.00" r="3.7" fill="#fff" stroke="#000" stroke-width="2.1"/>
<circle cx="1336.30" cy="547.00" r="3.7" fill="#fff" stroke="#000" stroke-width="2.1"/>
<circle cx="1336.90" cy="532.00" r="3.7" fill="#fff" stroke="#000" stroke-width="2.1"/>
</g>
<defs><linearGradient id="cyl" x1="0" y1="0" x2="0.3" y2="1"><stop offset="0" stop-color="#6e6e6e"/><stop offset="0.35" stop-color="#c9c9c9"/><stop offset="0.55" stop-color="#e6e6e6"/><stop offset="1" stop-color="#7a7a7a"/></linearGradient><radialGradient id="face" cx="0.45" cy="0.55" r="0.6"><stop offset="0" stop-color="#c8c8c8"/><stop offset="1" stop-color="#8a8a8a"/></radialGradient></defs>
<path d="M1446,509 L1418,510 C1408,514 1399,522 1397,534 C1395,548 1400,565 1411,574 C1415,577 1420,577 1425,573 L1446,559 Z" fill="url(#cyl)"/>
<path d="M1418,511 C1407,516 1399,526 1397.5,538 C1396.5,552 1401,566 1410,574 C1416,571 1420,562 1420,546 C1420,530 1422,518 1418,511 Z" fill="url(#face)" opacity="0.9"/>
<circle cx="1404.5" cy="552" r="1.6" fill="#555"/><circle cx="1408" cy="547" r="1.3" fill="#666"/><circle cx="1408.5" cy="555" r="1.3" fill="#666"/>
<g id="qchart">
<rect x="1547.2" y="478.1" width="179" height="188.9" fill="#fbfbfb"/>
<rect x="1566.21" y="483.56" width="150.91" height="158.14" fill="none" stroke="#d8d8d8" stroke-width="0.4"/>
<text x="1586.99" y="648.02" font-family="'Liberation Sans', Arial, sans-serif" font-size="4" fill="#999" text-anchor="middle">500</text>
<text x="1613.02" y="648.02" font-family="'Liberation Sans', Arial, sans-serif" font-size="4" fill="#999" text-anchor="middle">1000</text>
<text x="1639.04" y="648.02" font-family="'Liberation Sans', Arial, sans-serif" font-size="4" fill="#999" text-anchor="middle">1500</text>
<text x="1665.07" y="648.02" font-family="'Liberation Sans', Arial, sans-serif" font-size="4" fill="#999" text-anchor="middle">2000</text>
<text x="1691.09" y="648.02" font-family="'Liberation Sans', Arial, sans-serif" font-size="4" fill="#999" text-anchor="middle">2500</text>
<text x="1717.12" y="648.02" font-family="'Liberation Sans', Arial, sans-serif" font-size="4" fill="#999" text-anchor="middle">3000</text>
<text x="1564.94" y="643.00" font-family="'Liberation Sans', Arial, sans-serif" font-size="4" fill="#999" text-anchor="end">0</text>
<text x="1564.94" y="617.33" font-family="'Liberation Sans', Arial, sans-serif" font-size="4" fill="#999" text-anchor="end">5</text>
<text x="1564.94" y="591.67" font-family="'Liberation Sans', Arial, sans-serif" font-size="4" fill="#999" text-anchor="end">10</text>
<text x="1564.94" y="566.00" font-family="'Liberation Sans', Arial, sans-serif" font-size="4" fill="#999" text-anchor="end">15</text>
<text x="1564.94" y="540.34" font-family="'Liberation Sans', Arial, sans-serif" font-size="4" fill="#999" text-anchor="end">20</text>
<text x="1564.94" y="514.68" font-family="'Liberation Sans', Arial, sans-serif" font-size="4" fill="#999" text-anchor="end">25</text>
<text x="1564.94" y="489.01" font-family="'Liberation Sans', Arial, sans-serif" font-size="4" fill="#999" text-anchor="end">30</text>
<text x="1641.21" y="652.90" font-family="'Liberation Sans', Arial, sans-serif" font-size="4" fill="#888" text-anchor="middle">ti - Ansteuerdauer [µs]</text>
<text transform="translate(1558.07,562.17) rotate(-90)" font-family="'Liberation Sans', Arial, sans-serif" font-size="4" fill="#888" text-anchor="middle">qdyn - Menge [mg]</text>
<text x="1641.21" y="479.40" font-family="'Liberation Sans', Arial, sans-serif" font-size="3.5" fill="#999" text-anchor="middle">HDEV qdyn Kennlinie Vergleich</text>
<line x1="1569.82" y1="488.07" x2="1581.57" y2="488.07" stroke="#2a3fb0" stroke-width="1"/>
<rect x="1582.47" y="486.57" width="9" height="3" fill="#c8c8c8"/>
<line x1="1569.82" y1="494.76" x2="1581.57" y2="494.76" stroke="#2a8a3a" stroke-width="1"/>
<rect x="1582.47" y="493.26" width="9" height="3" fill="#c8c8c8"/>
<line x1="1569.82" y1="501.45" x2="1581.57" y2="501.45" stroke="#d04040" stroke-width="1"/>
<rect x="1582.47" y="499.95" width="9" height="3" fill="#c8c8c8"/>
<line x1="1569.82" y1="508.13" x2="1581.57" y2="508.13" stroke="#40c0c0" stroke-width="1"/>
<rect x="1582.47" y="506.63" width="9" height="3" fill="#c8c8c8"/>
<path d="M1566.21,641.70 L1572.53,641.70 L1575.24,627.24 L1586.99,614.59 L1599.64,602.84 L1615.91,587.48 L1637.60,565.79 L1717.12,487.17" fill="none" stroke="#b03a3a" stroke-width="1.1"/>
<path d="M1566.21,641.00 L1572.53,641.00 L1575.24,626.54 L1586.99,613.89 L1599.64,602.14 L1615.91,586.78 L1637.60,565.09 L1717.12,486.47" fill="none" stroke="#2a7a3a" stroke-width="1.0"/>
<path d="M1566.21,641.70 L1572.53,641.70 L1575.24,627.24 L1586.99,614.59 L1599.64,602.84 L1615.91,587.48 L1637.60,565.79 L1717.12,499.82" fill="none" stroke="#24409a" stroke-width="1.1"/>
<path d="M1566.81,641.70 L1573.13,641.70 L1575.84,627.24 L1587.59,614.59 L1600.24,602.84 L1616.51,587.48 L1638.20,565.79 L1717.72,499.82" fill="none" stroke="#2aa0b0" stroke-width="1.0"/>
<path d="M1566.21,641.70 L1572.53,641.70 L1573.98,633.56 L1575.24,627.24 L1581.57,621.82 L1585.18,614.59 L1589.70,612.78 L1594.22,607.36 L1599.64,602.84 L1605.06,599.22 L1610.49,594.71 L1615.91,587.48 L1621.33,582.96 L1626.75,576.63 L1632.17,572.11 L1637.60,565.79" fill="none" stroke="#1d3a2a" stroke-width="1.8"/>
<path d="M1567.01,642.20 L1573.33,642.20 L1574.78,634.06 L1576.04,627.74 L1582.37,622.32 L1585.98,615.09 L1590.50,613.28 L1595.02,607.86 L1600.44,603.34 L1605.86,599.72 L1611.29,595.21 L1616.71,587.98 L1622.13,583.46 L1627.55,577.13 L1632.97,572.61 L1638.40,566.29" fill="none" stroke="#3aa050" stroke-width="0.9"/>
<path d="M1687.30,501.63 Q1702.66,513.38 1703.56,531.45" fill="none" stroke="#12306a" stroke-width="2.2"/>
<path d="M1682.42,495.30 L1691.09,498.56 L1685.67,505.79 Z" fill="#12306a"/>
<path d="M1706.64,538.32 L1707.36,527.47 L1699.77,530.73 Z" fill="#12306a"/>
</g>
<path d="M965.60,746.00 L1061.30,862.20 L1063.32,862.89 L1065.35,863.62 L1067.37,864.38 L1069.39,865.18 L1071.41,866.02 L1073.44,866.90 L1075.46,867.82 L1077.48,868.78 L1079.50,869.77 L1081.53,870.80 L1083.55,871.86 L1085.57,872.95 L1087.60,874.08 L1089.62,875.25 L1091.64,876.45 L1093.66,877.67 L1095.69,878.93 L1097.71,880.23 L1099.73,881.55 L1101.75,882.90 L1103.78,884.28 L1105.80,885.69 L1107.82,887.12 L1109.85,888.58 L1111.87,890.07 L1113.89,891.59 L1115.91,893.13 L1117.94,894.69 L1119.96,896.28 L1121.98,897.89 L1124.00,899.52 L1126.03,901.18 L1128.05,902.86 L1130.07,904.56 L1132.10,906.27 L1134.12,908.01 L1136.14,909.77 L1138.16,911.54 L1140.19,913.34 L1142.21,915.15 L1144.23,916.97 L1146.25,918.81 L1148.28,920.67 L1150.30,922.54 L1152.32,924.42 L1154.35,926.32 L1156.37,928.23 L1158.39,930.16 L1160.41,932.09 L1162.44,934.03 L1164.46,935.99 L1166.48,937.95 L1168.50,939.92 L1170.53,941.90 L1172.55,943.89 L1174.57,945.89 L1176.60,947.89 L1178.62,949.90 L1180.64,951.91 L1182.66,953.93 L1184.69,955.95 L1186.71,957.97 L1188.73,960.00 L1190.75,962.02 L1192.78,964.05 L1194.80,966.20 L1196.81,966.82 L1198.82,967.43 L1200.83,968.03 L1202.84,968.62 L1204.85,969.21 L1206.87,969.79 L1208.88,970.36 L1210.89,970.92 L1212.90,971.47 L1214.91,972.02 L1216.92,972.56 L1218.93,973.09 L1220.94,973.61 L1222.95,974.13 L1224.96,974.64 L1226.98,975.14 L1228.99,975.63 L1231.00,976.12 L1233.01,976.60 L1235.02,977.07 L1237.03,977.54 L1239.04,978.00 L1241.05,978.45 L1243.06,978.89 L1245.07,979.33 L1247.08,979.76 L1249.10,980.19 L1251.11,980.61 L1253.12,981.02 L1255.13,981.42 L1257.14,981.82 L1259.15,982.22 L1261.16,982.60 L1263.17,982.98 L1265.18,983.36 L1267.19,983.73 L1269.21,984.09 L1271.22,984.44 L1273.23,984.80 L1275.24,985.14 L1277.25,985.48 L1279.26,985.81 L1281.27,986.14 L1283.28,986.46 L1285.29,986.78 L1287.30,987.09 L1289.32,987.40 L1291.33,987.70 L1293.34,987.99 L1295.35,988.28 L1297.36,988.57 L1299.37,988.85 L1301.38,989.13 L1303.39,989.40 L1305.40,989.66 L1307.41,989.92 L1309.42,990.18 L1311.44,990.43 L1313.45,990.68 L1315.46,990.92 L1317.47,991.16 L1319.48,991.39 L1321.49,991.62 L1323.50,991.85 L1325.51,992.07 L1327.52,992.29 L1329.53,992.50 L1331.55,992.71 L1333.56,992.92 L1335.57,993.12 L1337.58,993.32 L1339.59,993.51 L1341.60,993.70 L1746.30,993.70" fill="none" stroke="#000" stroke-width="6.2" stroke-linejoin="miter"/>
<line x1="1062.7" y1="860.9" x2="1094.1" y2="830.0" stroke="#000" stroke-width="3"/>
<path d="M964.50,888.40 L966.51,890.58 L968.52,892.68 L970.53,894.73 L972.54,896.71 L974.55,898.65 L976.56,900.54 L978.56,902.37 L980.57,904.16 L982.58,905.91 L984.59,907.61 L986.60,909.28 L988.61,910.90 L990.62,912.49 L992.63,914.04 L994.64,915.56 L996.65,917.05 L998.66,918.51 L1000.67,919.94 L1002.68,921.35 L1004.69,922.74 L1006.69,924.10 L1008.70,925.45 L1010.71,926.78 L1012.72,928.10 L1014.73,929.40 L1016.74,930.69 L1018.75,931.97 L1020.76,933.24 L1022.77,934.51 L1024.78,935.78 L1026.79,937.05 L1028.80,938.31 L1030.81,939.58 L1032.81,940.86 L1034.82,942.14 L1036.83,943.43 L1038.84,944.73 L1040.85,946.04 L1042.86,947.37 L1044.87,948.72 L1046.88,950.08 L1048.89,951.47 L1050.90,952.87 L1052.91,954.31 L1054.92,955.77 L1056.93,957.25 L1058.94,958.77 L1060.94,960.32 L1062.95,961.91 L1064.96,963.53 L1066.97,965.19 L1068.98,966.89 L1070.99,968.63 L1073.00,970.40 L1075.02,970.97 L1077.05,971.55 L1079.07,972.12 L1081.10,972.67 L1083.12,973.20 L1085.15,973.72 L1087.17,974.22 L1089.20,974.72 L1091.22,975.19 L1093.25,975.66 L1095.27,976.12 L1097.30,976.56 L1099.32,977.00 L1101.34,977.43 L1103.37,977.85 L1105.39,978.27 L1107.42,978.68 L1109.44,979.09 L1111.47,979.49 L1113.49,979.89 L1115.52,980.29 L1117.54,980.68 L1119.57,981.08 L1121.59,981.48 L1123.62,981.88 L1125.64,982.28 L1127.66,982.68 L1129.69,983.09 L1131.71,983.51 L1133.74,983.93 L1135.76,984.35 L1137.79,984.79 L1139.81,985.23 L1141.84,985.69 L1143.86,986.15 L1145.89,986.62 L1147.91,987.11 L1149.94,987.61 L1151.96,988.13 L1153.98,988.66 L1156.01,989.20 L1158.03,989.76 L1160.06,990.34 L1162.08,990.94 L1164.11,991.55 L1166.13,992.19 L1168.16,992.85 L1170.18,993.53 L1172.21,994.23 L1174.23,994.95 L1176.26,995.70 L1178.28,996.48 L1180.30,997.28 L1182.33,998.11 L1184.35,998.97 L1186.38,999.85 L1188.40,1000.77 L1190.43,1001.71 L1192.45,1002.69 L1194.48,1003.70 L1196.50,1004.74 L1198.53,1005.82 L1200.55,1006.93 L1202.58,1008.08 L1204.60,1009.30 L1206.60,1009.59 L1208.60,1009.87 L1210.60,1010.15 L1212.60,1010.42 L1214.60,1010.68 L1216.60,1010.94 L1218.60,1011.19 L1220.60,1011.44 L1222.60,1011.69 L1224.60,1011.93 L1226.60,1012.16 L1228.60,1012.40 L1230.60,1012.62 L1232.60,1012.85 L1234.60,1013.06 L1236.60,1013.28 L1238.60,1013.49 L1240.60,1013.69 L1242.60,1013.89 L1244.60,1014.09 L1246.60,1014.28 L1248.60,1014.47 L1250.60,1014.65 L1252.60,1014.83 L1254.60,1015.00 L1256.60,1015.18 L1258.60,1015.34 L1260.60,1015.51 L1262.60,1015.67 L1264.60,1015.82 L1266.60,1015.97 L1268.60,1016.12 L1270.60,1016.27 L1272.60,1016.41 L1274.60,1016.54 L1276.60,1016.68 L1278.60,1016.81 L1280.60,1016.93 L1282.60,1017.05 L1284.60,1017.17 L1286.60,1017.29 L1288.60,1017.40 L1290.60,1017.51 L1292.60,1017.62 L1294.60,1017.72 L1296.60,1017.82 L1298.60,1017.91 L1300.60,1018.01 L1302.60,1018.10 L1304.60,1018.18 L1306.60,1018.26 L1308.60,1018.35 L1310.60,1018.42 L1312.60,1018.50 L1314.60,1018.57 L1316.60,1018.64 L1318.60,1018.70 L1320.60,1018.77 L1322.60,1018.83 L1324.60,1018.88 L1326.60,1018.94 L1328.60,1018.99 L1330.60,1019.04 L1332.60,1019.09 L1334.60,1019.13 L1336.60,1019.17 L1338.60,1019.21 L1340.60,1019.25 L1342.60,1019.29 L1344.60,1019.32 L1346.60,1019.35 L1348.60,1019.38 L1350.60,1019.40 L1744.20,1019.40" fill="none" stroke="#58aedb" stroke-width="6.2" stroke-linejoin="round"/>
<line x1="1173.4" y1="993.5" x2="1249.6" y2="908.0" stroke="#58aedb" stroke-width="2.8"/>
<path d="M963.4,1078.4 L1073.2,1038.3 L1749.3,1038.3 L1749.3,1078.6 Z" fill="#fcda98" stroke="#000" stroke-width="2.2" stroke-linejoin="miter"/>
<path d="M1074.30,1045.10V1055.00M1074.30,1063.20V1073.10" stroke="#5d4514" stroke-width="2.6" fill="none"/>
<path d="M1238.50,1040.00V1047.10M1238.50,1055.30V1065.20M1238.50,1073.40V1077.00" stroke="#5d4514" stroke-width="2.6" fill="none"/>
<rect x="1234" y="1047" width="9" height="25" fill="#fcda98"/>
<path d="M963.90,901.00 L965.91,903.63 L967.91,906.20 L969.92,908.70 L971.93,911.12 L973.94,913.48 L975.94,915.76 L977.95,917.97 L979.96,920.12 L981.97,922.21 L983.97,924.24 L985.98,926.22 L987.99,928.14 L990.00,930.01 L992.00,931.83 L994.01,933.61 L996.02,935.34 L998.03,937.04 L1000.03,938.69 L1002.04,940.32 L1004.05,941.91 L1006.06,943.47 L1008.06,945.00 L1010.07,946.51 L1012.08,948.00 L1014.09,949.47 L1016.09,950.93 L1018.10,952.37 L1020.11,953.80 L1022.11,955.23 L1024.12,956.65 L1026.13,958.06 L1028.14,959.48 L1030.14,960.90 L1032.15,962.33 L1034.16,963.76 L1036.17,965.21 L1038.17,966.66 L1040.18,968.14 L1042.19,969.63 L1044.20,971.15 L1046.20,972.69 L1048.21,974.26 L1050.22,975.86 L1052.23,977.49 L1054.23,979.15 L1056.24,980.86 L1058.25,982.60 L1060.26,984.39 L1062.26,986.22 L1064.27,988.10 L1066.28,990.04 L1068.29,992.02 L1070.29,994.07 L1072.30,996.20 L1074.30,996.61 L1076.31,997.02 L1078.31,997.43 L1080.32,997.85 L1082.32,998.28 L1084.33,998.71 L1086.33,999.15 L1088.34,999.59 L1090.34,1000.04 L1092.35,1000.50 L1094.35,1000.96 L1096.35,1001.43 L1098.36,1001.90 L1100.36,1002.39 L1102.37,1002.88 L1104.37,1003.37 L1106.38,1003.87 L1108.38,1004.38 L1110.39,1004.90 L1112.39,1005.42 L1114.40,1005.96 L1116.40,1006.50 L1118.40,1007.05 L1120.41,1007.60 L1122.41,1008.17 L1124.42,1008.74 L1126.42,1009.32 L1128.43,1009.91 L1130.43,1010.51 L1132.44,1011.11 L1134.44,1011.73 L1136.45,1012.35 L1138.45,1012.99 L1140.45,1013.63 L1142.46,1014.29 L1144.46,1014.95 L1146.47,1015.62 L1148.47,1016.30 L1150.48,1017.00 L1152.48,1017.70 L1154.49,1018.41 L1156.49,1019.14 L1158.50,1019.87 L1160.50,1020.62 L1162.50,1021.37 L1164.51,1022.14 L1166.51,1022.92 L1168.52,1023.71 L1170.52,1024.51 L1172.53,1025.32 L1174.53,1026.14 L1176.54,1026.98 L1178.54,1027.83 L1180.55,1028.69 L1182.55,1029.56 L1184.55,1030.44 L1186.56,1031.34 L1188.56,1032.25 L1190.57,1033.17 L1192.57,1034.11 L1194.58,1035.06 L1196.58,1036.02 L1198.59,1036.99 L1200.59,1037.98 L1202.60,1038.98 L1204.60,1040.00 L1206.60,1040.44 L1208.60,1040.91 L1210.60,1041.37 L1212.60,1041.81 L1214.60,1042.24 L1216.60,1042.65 L1218.60,1043.06 L1220.60,1043.44 L1222.60,1043.82 L1224.60,1044.18 L1226.60,1044.53 L1228.60,1044.87 L1230.60,1045.20 L1232.60,1045.51 L1234.60,1045.81 L1236.60,1046.11 L1238.60,1046.39 L1240.60,1046.66 L1242.60,1046.92 L1244.60,1047.16 L1246.60,1047.40 L1248.60,1047.63 L1250.60,1047.85 L1252.60,1048.06 L1254.60,1048.26 L1256.60,1048.46 L1258.60,1048.64 L1260.60,1048.81 L1262.60,1048.98 L1264.60,1049.14 L1266.60,1049.29 L1268.60,1049.43 L1270.60,1049.57 L1272.60,1049.70 L1274.60,1049.82 L1276.60,1049.94 L1278.60,1050.05 L1280.60,1050.15 L1282.60,1050.25 L1284.60,1050.34 L1286.60,1050.43 L1288.60,1050.51 L1290.60,1050.59 L1292.60,1050.66 L1294.60,1050.73 L1296.60,1050.79 L1298.60,1050.85 L1300.60,1050.91 L1302.60,1050.96 L1304.60,1051.01 L1306.60,1051.05 L1308.60,1051.10 L1310.60,1051.14 L1312.60,1051.18 L1314.60,1051.21 L1316.60,1051.25 L1318.60,1051.28 L1320.60,1051.31 L1322.60,1051.34 L1324.60,1051.37 L1326.60,1051.40 L1328.60,1051.43 L1330.60,1051.46 L1332.60,1051.49 L1334.60,1051.52 L1336.60,1051.55 L1338.60,1051.58 L1340.60,1051.61 L1342.60,1051.64 L1344.60,1051.67 L1346.60,1051.71 L1348.60,1051.75 L1350.60,1051.80 L1744.20,1051.80" fill="none" stroke="#3bb54a" stroke-width="6.2" stroke-linejoin="round"/>
<line x1="1407.9" y1="1048.0" x2="1465.2" y2="978.6" stroke="#3bb54a" stroke-width="2.8"/>
<line x1="926.6" y1="1081.0" x2="1753" y2="1081.0" stroke="#000" stroke-width="5.4"/>
<path d="M1751.6,1071.2 L1771,1081 L1751.6,1090.9 Z" fill="#000"/>
<text id="hb1" x="990.28" y="40.70" font-family="'Liberation Sans', Arial, sans-serif" font-weight="bold" font-size="29.00" fill="#111" textLength="58.12" lengthAdjust="spacingAndGlyphs" >Ball.</text>
<text id="hb2" x="971.94" y="73.20" font-family="'Liberation Sans', Arial, sans-serif" font-weight="bold" font-size="29.00" fill="#111" textLength="93.74" lengthAdjust="spacingAndGlyphs" >Bereich</text>
<text id="hu1" x="1086.95" y="40.70" font-family="'Liberation Sans', Arial, sans-serif" font-weight="bold" font-size="29.00" fill="#fff" textLength="138.05" lengthAdjust="spacingAndGlyphs" >Übergangs-</text>
<text id="hu2" x="1109.53" y="73.20" font-family="'Liberation Sans', Arial, sans-serif" font-weight="bold" font-size="29.00" fill="#fff" textLength="91.54" lengthAdjust="spacingAndGlyphs" >bereich</text>
<text id="hm" x="1399.77" y="59.70" font-family="'Liberation Sans', Arial, sans-serif" font-weight="bold" font-size="31.00" fill="#fff" textLength="186.45" lengthAdjust="spacingAndGlyphs" >Max. Nadelhub</text>
<text id="qmg" transform="rotate(-90)" x="-303.52" y="937.80" font-family="'Liberation Sans', Arial, sans-serif" font-weight="bold" font-size="27.00" fill="#111" textLength="126.13" lengthAdjust="spacingAndGlyphs" >qdyn [mg]</text>
<text id="qkl" x="1419.97" y="305.00" font-family="'Liberation Sans', Arial, sans-serif" font-weight="bold" font-size="29.50" fill="#151515" textLength="187.07" lengthAdjust="spacingAndGlyphs" >qdyn-Kennlinie</text>
<text id="dom" x="1194.17" y="442.90" font-family="'Liberation Sans', Arial, sans-serif" font-weight="bold" font-size="32.00" fill="#fff" textLength="274.04" lengthAdjust="spacingAndGlyphs" >Dominante Toleranzen</text>
<text id="nad" x="1004.59" y="670.20" font-family="'Liberation Sans', Arial, sans-serif" font-weight="bold" font-size="30.80" fill="#111" textLength="174.22" lengthAdjust="spacingAndGlyphs" >Nadeldynamik</text>
<text id="spr" x="1306.39" y="668.80" font-family="'Liberation Sans', Arial, sans-serif" font-weight="bold" font-size="30.60" fill="#111" textLength="145.82" lengthAdjust="spacingAndGlyphs" >Spritzlöcher</text>
<text id="qtol" x="1328.48" y="754.80" font-family="'Liberation Sans', Arial, sans-serif" font-weight="bold" font-size="31.00" fill="#151515" textLength="340.23" lengthAdjust="spacingAndGlyphs" >qdyn-Toleranzen (qualitativ)</text>
<text id="dq" transform="rotate(-90)" x="-960.92" y="934.50" font-family="'Liberation Sans', Arial, sans-serif" font-weight="bold" font-size="28.00" fill="#111" textLength="184.44" lengthAdjust="spacingAndGlyphs" >Delta qdyn [%]</text>
<text id="wo" x="1099.00" y="822.60" font-family="'Liberation Sans', Arial, sans-serif" font-weight="bold" font-size="30.00" fill="#111" textLength="82.62" lengthAdjust="spacingAndGlyphs" >w/o CVO</text>
<text id="wb" x="1251.30" y="902.00" font-family="'Liberation Sans', Arial, sans-serif" font-weight="bold" font-size="28.50" fill="#5aaad6" textLength="81.41" lengthAdjust="spacingAndGlyphs" >w/ CVO3</text>
<text id="g1" x="1468.60" y="871.90" font-family="'Liberation Sans', Arial, sans-serif" font-weight="bold" font-size="28.30" fill="#3bb54a" textLength="81.41" lengthAdjust="spacingAndGlyphs" >w/ CVO3</text>
<text id="g2" x="1466.49" y="903.60" font-family="'Liberation Sans', Arial, sans-serif" font-weight="bold" font-size="28.30" fill="#3bb54a" textLength="39.86" lengthAdjust="spacingAndGlyphs" >und</text>
<text id="g3" x="1468.38" y="937.60" font-family="'Liberation Sans', Arial, sans-serif" font-weight="bold" font-size="28.30" fill="#3bb54a" textLength="147.14" lengthAdjust="spacingAndGlyphs" >Qstat Adaption</text>
<text id="g4" x="1466.58" y="969.90" font-family="'Liberation Sans', Arial, sans-serif" font-weight="bold" font-size="28.30" fill="#3bb54a" textLength="156.43" lengthAdjust="spacingAndGlyphs" >(Ziel SOP 2018)</text>
<text id="qst" x="1116.19" y="1068.60" font-family="'Liberation Sans', Arial, sans-serif" font-weight="bold" font-size="30.20" fill="#111" textLength="295.25" lengthAdjust="spacingAndGlyphs" >Qstat-Toleranzverteilung</text>
<text id="tir" x="1659.58" y="1121.50" font-family="'Liberation Sans', Arial, sans-serif" font-weight="bold" font-size="28.00" fill="#111" textLength="81.48" lengthAdjust="spacingAndGlyphs" stroke="#fefefe" stroke-width="0.4">ti [ms]</text>
</svg></body></html>
